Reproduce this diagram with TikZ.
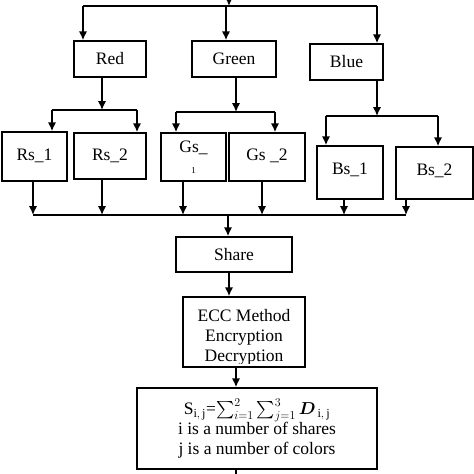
\documentclass[tikz,border=0pt]{standalone}
\usepackage{amsmath}
\usepackage{fontspec}
\setmainfont{Liberation Serif}
\usetikzlibrary{arrows.meta}
\begin{document}
\begin{tikzpicture}[x=1pt,y=-1pt,
  every node/.style={font=\fontsize{17.5}{20}\selectfont},
  box/.style={draw,line width=1.5pt,inner sep=0pt,align=center},
  ln/.style={line width=1.6pt},
  arr/.style={line width=1.6pt,-{Latex[length=9pt,width=8.5pt]}}]
\useasboundingbox (0,0) rectangle (474,474);
% boxes
\node[box,minimum width=72pt,minimum height=36pt] (Red) at (110,59) {Red};
\node[box,minimum width=84pt,minimum height=36pt] (Green) at (234,59) {Green};
\node[box,minimum width=73pt,minimum height=36pt] (Blue) at (346.5,62) {Blue};
\node[box,minimum width=65pt,minimum height=49pt] (Rs1) at (34.5,156.5) {\raisebox{3pt}{Rs\_1}};
\node[box,minimum width=72pt,minimum height=46pt] (Rs2) at (110,156) {\raisebox{3pt}{Rs\_2}};
\node[box,minimum width=65pt,minimum height=48pt] (Gs1) at (193.5,157) {Gs\_\\[1pt]{\fontsize{9}{9}\selectfont 1}};
\node[box,minimum width=76pt,minimum height=48pt] (Gs2) at (267,157) {\raisebox{4pt}{Gs \_2}};
\node[box,minimum width=66pt,minimum height=53pt] (Bs1) at (350,172.5) {\raisebox{7pt}{Bs\_1}};
\node[box,minimum width=77pt,minimum height=52pt] (Bs2) at (434.5,173) {\raisebox{6pt}{Bs\_2}};
\node[box,minimum width=116pt,minimum height=35pt] (Share) at (234,254.5) {Share};
\node[box,minimum width=122pt,minimum height=70pt] (ECC) at (244,332) {};
\begin{scope}
  \clip (183,297) rectangle (305,363);
  \node[align=center,inner sep=0pt,anchor=north] (ECCt) at (244,309) {ECC Method\\Encryption\\Decryption};
\end{scope}
\node[box,minimum width=240pt,minimum height=81pt] (Form) at (257,428.5)
  {S$_{\mathrm{i,\,j}}$=$\textstyle\sum_{i=1}^{2}\sum_{j=1}^{3}\boldsymbol{D}_{\mathrm{\,i,\,j}}$\\i is a number of shares\\j is a number of colors};
% top distribution
\coordinate (t0) at (229,-3);
\coordinate (tM) at (229,6);
\coordinate (tL) at (83,6);
\coordinate (tG) at (226,6);
\coordinate (tR) at (377,6);
\draw[arr] (t0) -- (tM);
\draw[ln] (tL) -- (tR);
\draw[arr] (tL) -- (tL |- Red.north);
\draw[arr] (tG) -- (tG |- Green.north);
\draw[arr] (tR) -- (tR |- Blue.north);
% red split
\coordinate (rM) at (102,110);
\coordinate (rL) at (52,110);
\coordinate (rR) at (137,110);
\draw[arr] (rM |- Red.south) -- (rM);
\draw[ln] (rL) -- (rR);
\draw[arr] (rL) -- (rL |- Rs1.north);
\draw[arr] (rR) -- (rR |- Rs2.north);
% green split
\coordinate (gM) at (236,112);
\coordinate (gL) at (176,112);
\coordinate (gR) at (275,112);
\draw[arr] (gM |- Green.south) -- (gM);
\draw[ln] (gL) -- (gR);
\draw[arr] (gL) -- (gL |- Gs1.north);
\draw[arr] (gR) -- (gR |- Gs2.north);
% blue split
\coordinate (bM) at (377,116);
\coordinate (bL) at (326,116);
\coordinate (bR) at (438,116);
\draw[arr] (bM |- Blue.south) -- (bM);
\draw[ln] (bL) -- (bR);
\draw[arr] (bL) -- (bL |- Bs1.north);
\draw[arr] (bR) -- (bR |- Bs2.north);
% merge
\coordinate (m1) at (33,215);
\coordinate (m2) at (102,215);
\coordinate (m3) at (183,215);
\coordinate (m4) at (262,215);
\coordinate (m5) at (344,215);
\coordinate (m6) at (406,215);
\coordinate (mS) at (228,215);
\draw[ln] (m1) -- (m6);
\draw[arr] (m1 |- Rs1.south) -- (m1);
\draw[arr] (m2 |- Rs2.south) -- (m2);
\draw[arr] (m3 |- Gs1.south) -- (m3);
\draw[arr] (m4 |- Gs2.south) -- (m4);
\draw[arr] (m5 |- Bs1.south) -- (m5);
\draw[arr] (m6 |- Bs2.south) -- (m6);
\draw[arr] (mS) -- (mS |- Share.north);
% lower chain
\coordinate (sx) at (229,0);
\coordinate (ex) at (236,0);
\coordinate (bot) at (236,480);
\draw[arr] (sx |- Share.south) -- (sx |- ECC.north);
\draw[arr] (ex |- ECC.south) -- (ex |- Form.north);
\draw[ln] (ex |- Form.south) -- (bot);
\end{tikzpicture}
\end{document}
